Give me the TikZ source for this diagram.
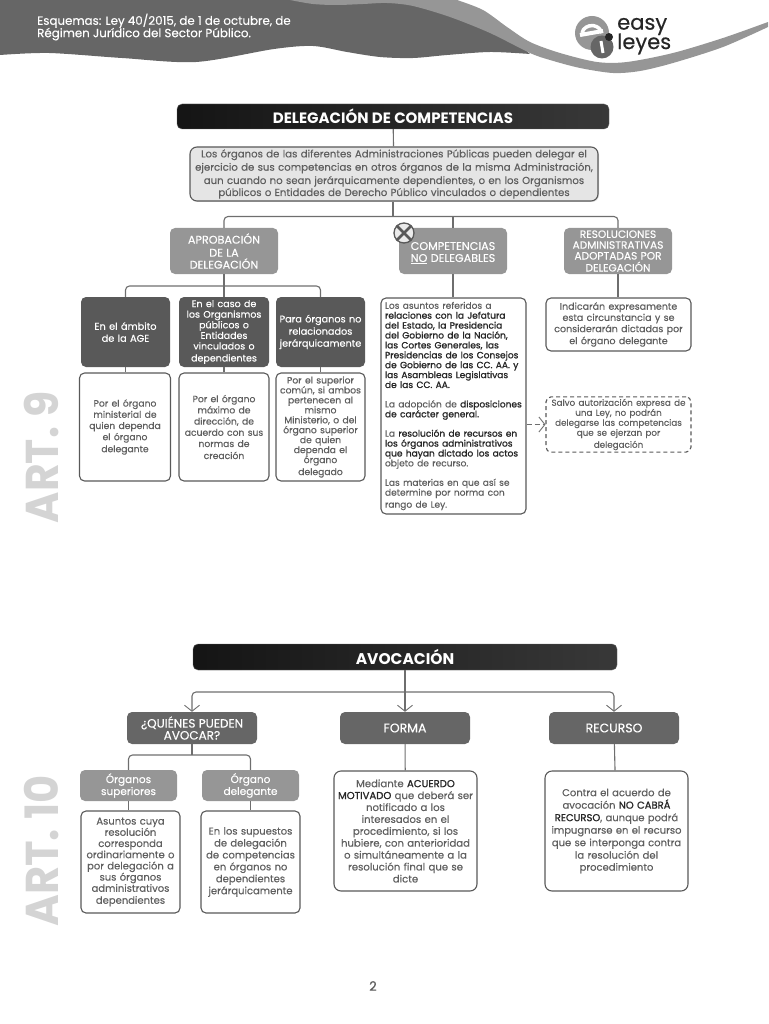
\documentclass[tikz,border=0pt]{standalone}
\usepackage{fontspec}
\usepackage{xcolor}
\usepackage{tikz}
\setmainfont{Poppins}[UprightFeatures={FakeBold=0.35}]
\newfontfamily\medfont{Poppins}[FakeBold=1.1]
\usetikzlibrary{arrows.meta,shadows}
\definecolor{esqDark}{RGB}{102,102,102}
\definecolor{esqBox}{RGB}{89,89,89}
\definecolor{esqMid}{RGB}{150,150,150}
\definecolor{esqLine}{RGB}{110,110,110}
\definecolor{esqText}{RGB}{95,95,95}
\definecolor{esqArt}{RGB}{212,212,212}
\newcommand{\fsize}[2]{\fontsize{#1}{#2}\selectfont}
\newcommand{\resalta}[1]{{\color{black!85}\medfont #1}}
\tikzset{
  boxdim/.style 2 args={text width=#1pt-4pt,minimum height=#2pt,inner sep=2pt,align=center,rounded corners=5pt},
  titlebar/.style={left color=black!92,right color=black!78,draw=black!60,line width=.4pt,text=white},
  graybox/.style={fill=esqMid,text=white},
  darkbox/.style={fill=esqBox,text=white},
  formbox/.style={fill=esqDark,text=white},
  whitebox/.style={draw=esqBox,fill=white,line width=1.1pt,text=esqText},
  conn/.style={draw=esqLine,line width=1.1pt,rounded corners=4pt},
  barb/.style={-{Straight Barb[length=6pt,width=15pt,line width=.9pt]}}
}
\begin{document}
\begin{tikzpicture}[x=1pt,y=-1pt]
\useasboundingbox (0,0) rectangle (768,1024);
% cabecera
\fill[esqDark] (0,0) -- plot[smooth] coordinates {(0,55) (49,53) (122,58) (196,62) (274,49) (313,46) (347,52) (380,57) (413,58) (447,55) (490,52) (530,54)} -- (510,37) -- (490,25) -- (470,10) -- (457,0) -- cycle;
\fill[esqMid] plot[smooth] coordinates {(290,0) (313,4) (337,5) (363,4) (387,3) (413,6) (450,17) (490,33) (530,53) (550,60) (580,68) (613,73) (640,71) (673,63) (723,47) (768,27)} -- plot[smooth] coordinates {(768,22) (723,38) (673,53) (627,62) (597,62) (560,53) (530,42) (507,27) (483,10) (457,0)} -- cycle;
\node[text=white,anchor=west,align=left,inner sep=0pt,font=\fsize{11.85}{12.4}] (headText) at (37,27) {Esquemas: Ley 40/2015, de 1 de octubre, de\\Régimen Jurídico del Sector Público.};
% logo
\fill[esqMid] (592,33) circle (17);
\draw[white,line width=4pt] (580,35) -- (603,31);
\draw[white,line width=3.5pt] (582,33) arc (190:350:10 and 9);
\fill[esqDark] (602,47) circle (11.5);
\draw[white,line width=3pt] (601,41) -- (603,53);
\fill[black!85] (609,37) circle (4);
\node[text=black!85,anchor=west,inner sep=0pt] (logoEasy) at (617,26.5) {\fsize{21}{21}easy};
\node[text=black!85,anchor=west,inner sep=0pt] (logoLeyes) at (617,44) {\fsize{21}{21}leyes};
% articulos
\node[text=esqArt,rotate=90,xscale=.925,inner sep=0pt] (artNine) at (42,457.5) {\fsize{46}{46}\textbf{ART. 9}};
\node[text=esqArt,rotate=90,xscale=.94,inner sep=0pt] (artTen) at (42,851) {\fsize{46}{46}\textbf{ART. 10}};

% delegacion
\node[titlebar,boxdim={432}{25}] (delTitle) at (393,116.5) {\fsize{15}{17}\textbf{DELEGACIÓN DE COMPETENCIAS}};
\node[whitebox,fill=black!10,boxdim={408}{54},rounded corners=7pt,drop shadow={opacity=.25,shadow xshift=1pt,shadow yshift=-1pt}] (intro) at (394,174) {\fsize{10.15}{13.3}Los órganos de las diferentes Administraciones Públicas pueden delegar el\\ejercicio de sus competencias en otros órganos de la misma Administración,\\aun cuando no sean jerárquicamente dependientes, o en los Organismos\\públicos o Entidades de Derecho Público vinculados o dependientes};
\node[graybox,boxdim={108}{46}] (aprob) at (224,251) {\fsize{11.2}{13}APROBACIÓN\\DE LA\\DELEGACIÓN};
\node[graybox,boxdim={108}{46}] (compNo) at (453,251) {\fsize{11.2}{12.4}\rule{0pt}{12pt}COMPETENCIAS\\\underline{NO} DELEGABLES};
\node[graybox,boxdim={108}{46}] (resol) at (618,251) {\fsize{10.6}{10.8}RESOLUCIONES\\ADMINISTRATIVAS\\ADOPTADAS POR\\DELEGACIÓN};
\node[darkbox,boxdim={89}{70}] (ambito) at (125.5,332) {\fsize{9.8}{11.3}En el ámbito\\de la AGE};
\node[darkbox,boxdim={90}{70}] (caso) at (224,332) {\fsize{9.5}{10.6}En el caso de\\los Organismos\\públicos o\\Entidades\\vinculados o\\dependientes};
\node[darkbox,boxdim={89}{70}] (jerar) at (320.5,332) {\fsize{9.7}{12.3}Para órganos no\\relacionados\\jerárquicamente};
\node[whitebox,boxdim={91}{108}] (ambitoTxt) at (125,427) {\fsize{9.2}{11.2}Por el órgano\\ministerial de\\quien dependa\\el órgano\\delegante};
\node[whitebox,boxdim={90}{108}] (casoTxt) at (224,427) {\fsize{9.2}{11.2}Por el órgano\\máximo de\\dirección, de\\acuerdo con sus\\normas de\\creación};
\node[whitebox,boxdim={89}{108}] (jerarTxt) at (320.5,427) {\fsize{9.2}{9.95}Por el superior\\común, si ambos\\pertenecen al\\mismo\\Ministerio, o del\\órgano superior\\de quien\\dependa el\\órgano\\delegado};
\node[whitebox,boxdim={145}{216},align=left,text width=137pt,inner xsep=4pt] (listNo) at (453.5,406) {\fsize{9.05}{9.9}Los asuntos referidos a\\\resalta{relaciones con la Jefatura}\\\resalta{del Estado, la Presidencia}\\\resalta{del Gobierno de la Nación,}\\\resalta{las Cortes Generales, las}\\\resalta{Presidencias de los Consejos}\\\resalta{de Gobierno de las CC. AA. y}\\\resalta{las Asambleas Legislativas}\\\resalta{de las CC. AA.}\\[9.5pt]La adopción de \resalta{disposiciones}\\\resalta{de carácter general.}\\[9.5pt]La \resalta{resolución de recursos en}\\\resalta{los órganos administrativos}\\\resalta{que hayan dictado los actos}\\objeto de recurso.\\[9.5pt]Las materias en que así se\\determine por norma con\\rango de Ley.};
\node[whitebox,boxdim={145}{53}] (resolTxt) at (618.5,324.5) {\fsize{9.5}{11.2}Indicarán expresamente\\esta circunstancia y se\\considerarán dictadas por\\el órgano delegante};
\node[whitebox,boxdim={145}{55},dashed,dash pattern=on 4pt off 3pt] (salvo) at (618.5,424.5) {\fsize{8.75}{10}Salvo autorización expresa de\\una Ley, no podrán\\delegarse las competencias\\que se ejerzan por\\delegación};
% icono X
\node[circle,draw=esqBox,fill=black!8,line width=1.3pt,minimum size=20pt,inner sep=0pt] (xMark) at (404,233) {};
\draw[esqBox,line width=2.6pt] (xMark.45) -- (xMark.225) (xMark.135) -- (xMark.315);

\coordinate (delBus) at (393,216.5);
\coordinate (aprobBus) at (224,286);
\draw[conn] (delTitle) -- (intro);
\draw[conn] (intro.south -| delBus) -- (delBus);
\draw[conn] (aprob.north) |- (delBus) -| (resol.north);
\draw[conn] (delBus -| compNo) -- (compNo.north);
\draw[conn] (aprob) -- (aprobBus);
\draw[conn] (ambito.north) |- (aprobBus) -| (jerar.north);
\draw[conn] (aprobBus) -- (caso.north);
\foreach \a/\b in {ambito/ambitoTxt,caso/casoTxt,jerar/jerarTxt,compNo/listNo,resol/resolTxt}
{
    \draw[conn] (\a) -- (\a |- \b.north);
}
\draw[conn,barb,dashed,dash pattern=on 5pt off 3pt] (listNo.east |- salvo) -- (salvo.west);

% avocacion
\node[titlebar,boxdim={424}{26}] (avoTitle) at (405,657) {\fsize{15.5}{17}\textbf{AVOCACIÓN}};
\node[formbox,boxdim={130}{32}] (quienes) at (192,728) {\fsize{12}{13}¿QUIÉNES PUEDEN\\AVOCAR?};
\node[formbox,boxdim={130}{32}] (forma) at (405,728) {\fsize{12.5}{13}FORMA};
\node[formbox,boxdim={130}{32}] (recurso) at (614,728) {\fsize{12.5}{13}RECURSO};
\node[graybox,boxdim={97}{31}] (superiores) at (128.5,785.5) {\fsize{10.5}{12.5}Órganos\\superiores};
\node[graybox,boxdim={97}{31}] (delegante) at (250.5,785.5) {\fsize{10.5}{12.5}Órgano\\delegante};
\node[whitebox,boxdim={99}{102}] (superTxt) at (130.5,862) {\fsize{10}{11.2}Asuntos cuya\\resolución\\corresponda\\ordinariamente o\\por delegación a\\sus órganos\\administrativos\\dependientes};
\node[whitebox,boxdim={99}{102}] (deleTxt) at (250.5,862) {\fsize{10}{11.9}En los supuestos\\de delegación\\de competencias\\en órganos no\\dependientes\\jerárquicamente};
\node[whitebox,boxdim={143}{120},rounded corners=7pt] (formaTxt) at (405.5,831) {\fsize{10.1}{11.9}Mediante \resalta{ACUERDO}\\\resalta{MOTIVADO} que deberá ser\\notificado a los\\interesados en el\\procedimiento, si los\\hubiere, con anterioridad\\o simultáneamente a la\\resolución final que se\\dicte};
\node[whitebox,boxdim={143}{120},rounded corners=7pt] (recursoTxt) at (616.5,831) {\fsize{10}{12.5}Contra el acuerdo de\\avocación \resalta{NO CABRÁ}\\\resalta{RECURSO}, aunque podrá\\impugnarse en el recurso\\que se interponga contra\\la resolución del\\procedimiento};

\coordinate (avoBus) at (405,692);
\coordinate (quienesBus) at (192,755);
\draw[conn] (avoTitle) -- (avoBus);
\draw[conn,barb] (avoBus) -| (quienes.north);
\draw[conn,barb] (avoBus) -- (forma.north);
\draw[conn,barb] (avoBus) -| (recurso.north);
\draw[conn] (quienes) -- (quienesBus);
\draw[conn] (superiores.north) |- (quienesBus) -| (delegante.north);
\foreach \a/\b in {superiores/superTxt,delegante/deleTxt}
{
    \draw[conn] (\a) -- (\a |- \b.north);
}
\draw[conn] (forma) -- (formaTxt);
\draw[conn] (recurso) -- (recursoTxt);

\node[text=esqBox] (pageNum) at (373,986) {\fsize{13}{14}2};
\end{tikzpicture}
\end{document}
